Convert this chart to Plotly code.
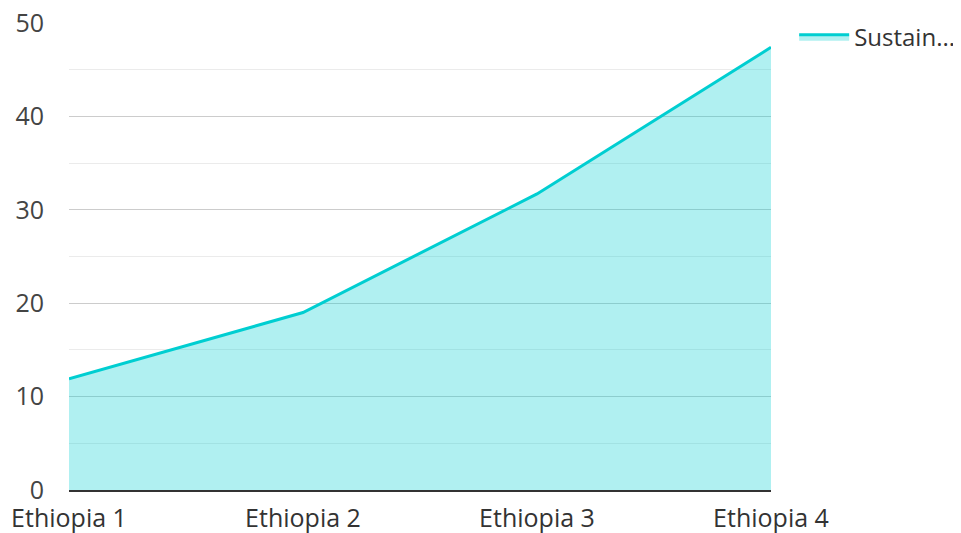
import plotly.graph_objects as go

categories = ["Ethiopia 1", "Ethiopia 2", "Ethiopia 3", "Ethiopia 4"]
values = [11.9, 19.0, 31.7, 47.4]
series_name = "Sustain..."
y_ticks = [0, 10, 20, 30, 40, 50]

fig = go.Figure()
fig.add_trace(go.Scatter(
    x=categories, y=values, name=series_name, mode="lines",
    fill="tozeroy", fillcolor="rgba(0,206,209,0.31)",
    line=dict(color="#00CED1", width=3),
    showlegend=True,
))

# page body adds an 8px offset; figure sized to compensate
fig.update_layout(
    width=953, height=525,
    margin=dict(l=61, r=190, t=15, b=43, autoexpand=False),
    paper_bgcolor="white", plot_bgcolor="white",
    font=dict(family="Open Sans", size=25, color="#444"),
    legend=dict(x=1.033, y=1.018, xanchor="left", yanchor="top",
                font=dict(size=24, color="#333"), itemwidth=50,
                borderwidth=0, tracegroupgap=0),
    xaxis=dict(
        range=[0, 3], showgrid=False, zeroline=False, automargin=False,
        showline=True, linecolor="#333", linewidth=2,
        ticks="outside", ticklen=5, tickcolor="rgba(0,0,0,0)",
        tickfont=dict(color="#333"), ticklabeloverflow="allow",
    ),
    yaxis=dict(
        range=[0, 50], tickvals=y_ticks, showgrid=True, automargin=False,
        gridcolor="#cccccc", gridwidth=1, zeroline=False,
        ticks="outside", ticklen=19, tickcolor="rgba(0,0,0,0)",
        ticklabeloverflow="allow",
        minor=dict(dtick=5, showgrid=True, gridcolor="#ebebeb", gridwidth=1),
    ),
)

fig.write_html("out.html")
